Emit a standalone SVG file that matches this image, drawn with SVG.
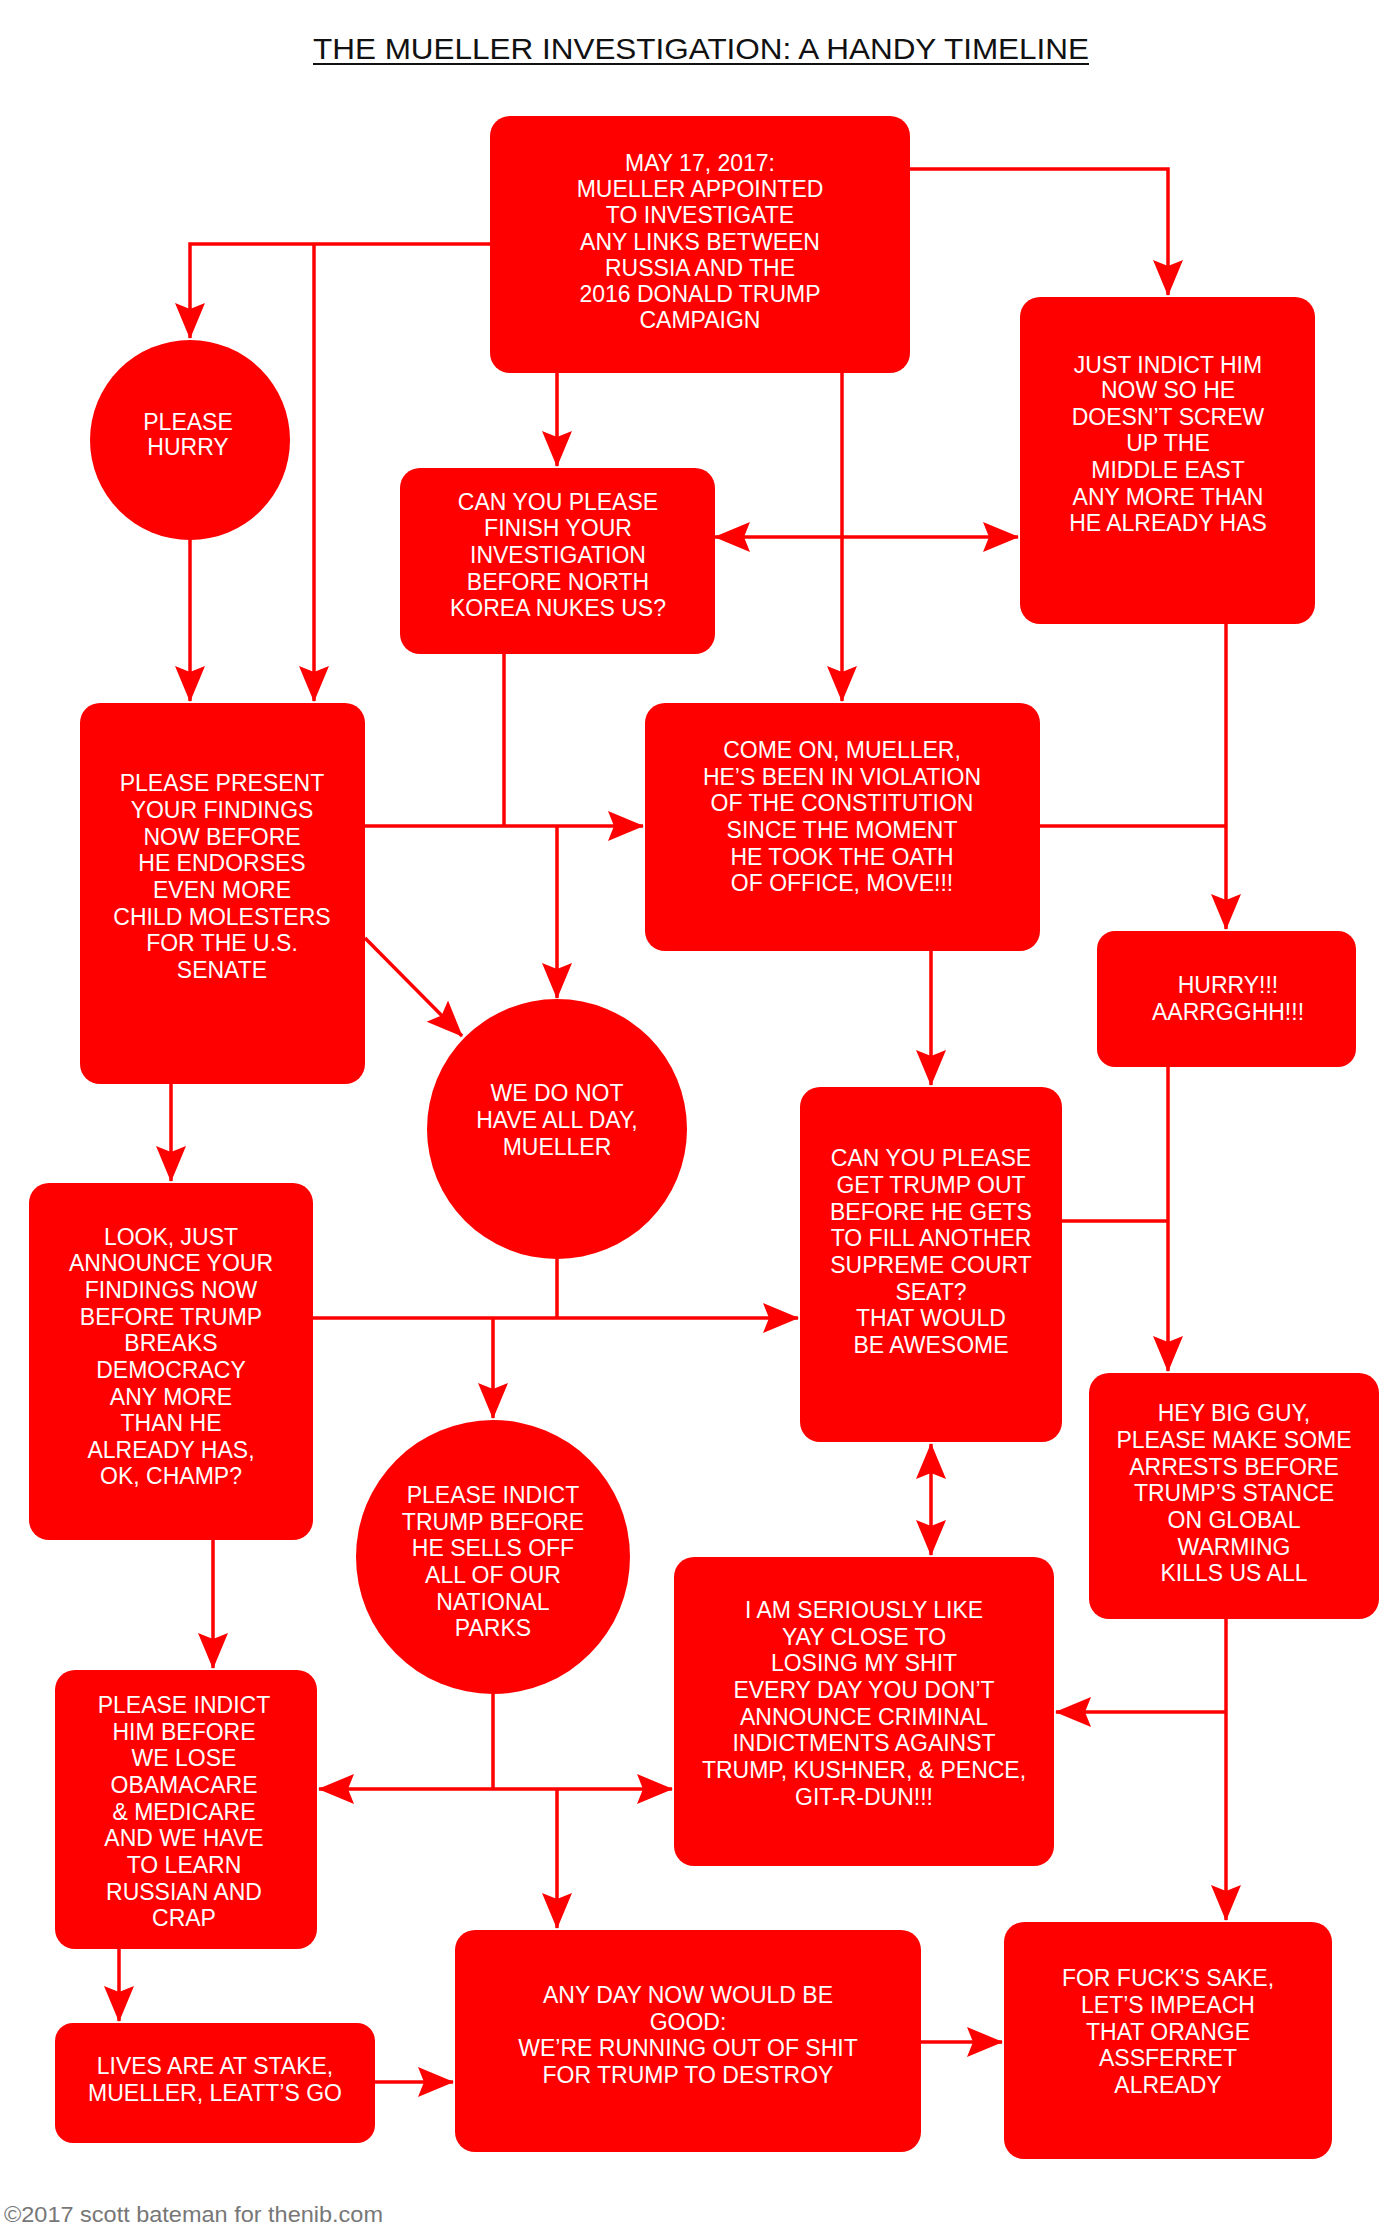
<svg xmlns="http://www.w3.org/2000/svg" width="1400" height="2240" viewBox="0 0 1400 2240">
<style>
.n{fill:#ff0000}
.t{font-family:"Liberation Sans",Arial,sans-serif;font-size:23px;fill:#ffffff;text-anchor:middle}
.c{stroke:#ff0000;stroke-width:3.5;fill:none}
.a{marker-end:url(#ah)}
.d{marker-start:url(#ah);marker-end:url(#ah)}
</style>
<defs>
<marker id="ah" markerUnits="userSpaceOnUse" markerWidth="40" markerHeight="34" viewBox="-37 -17 39 34" refX="0" refY="0" orient="auto-start-reverse">
<path d="M1,0 L-35,-15 L-29,0 L-35,15 Z" fill="#ff0000"/>
</marker>
</defs>
<rect width="1400" height="2240" fill="#ffffff"/>
<g id="title">
<text x="701" y="59" font-family="Liberation Sans, Arial, sans-serif" font-size="30" fill="#111" text-anchor="middle" textLength="776" lengthAdjust="spacingAndGlyphs">THE MUELLER INVESTIGATION: A HANDY TIMELINE</text>
<line x1="313" y1="64" x2="1089" y2="64" stroke="#111" stroke-width="2"/>
</g>
<g id="connectors">
<path class="c a" d="M490,244 H190 V338"/>
<path class="c a" d="M314,244 V701"/>
<path class="c a" d="M190,540 V701"/>
<path class="c a" d="M557,373 V466"/>
<path class="c a" d="M842,373 V701"/>
<path class="c a" d="M910,169 H1168 V295"/>
<path class="c d" d="M715,537 H1018"/>
<path class="c" d="M504,654 V826"/>
<path class="c a" d="M365,826 H643"/>
<path class="c a" d="M557,826 V998"/>
<path class="c" d="M1040,826 H1226"/>
<path class="c a" d="M1226,624 V929"/>
<path class="c a" d="M365,938 L462,1036"/>
<path class="c a" d="M931,951 V1085"/>
<path class="c a" d="M171,1084 V1181"/>
<path class="c a" d="M1168,1067 V1371"/>
<path class="c" d="M1062,1221 H1168"/>
<path class="c a" d="M313,1318 H798"/>
<path class="c" d="M557,1259 V1318"/>
<path class="c a" d="M493,1318 V1418"/>
<path class="c a" d="M213,1540 V1668"/>
<path class="c d" d="M931,1444 V1555"/>
<path class="c a" d="M1226,1619 V1920"/>
<path class="c a" d="M1226,1712 H1056"/>
<path class="c d" d="M319,1789 H672"/>
<path class="c" d="M493,1694 V1789"/>
<path class="c a" d="M557,1789 V1928"/>
<path class="c a" d="M119,1949 V2021"/>
<path class="c a" d="M375,2082 H453"/>
<path class="c a" d="M921,2042 H1002"/>
</g>
<g id="n1">
<rect class="n" x="490" y="116" width="420" height="257" rx="20"/>
<text class="t"><tspan x="700" y="171">MAY 17, 2017:</tspan><tspan x="700" y="197">MUELLER APPOINTED</tspan><tspan x="700" y="223">TO INVESTIGATE</tspan><tspan x="700" y="250">ANY LINKS BETWEEN</tspan><tspan x="700" y="276">RUSSIA AND THE</tspan><tspan x="700" y="302">2016 DONALD TRUMP</tspan><tspan x="700" y="328">CAMPAIGN</tspan></text>
</g>
<g id="n2">
<circle class="n" cx="190" cy="440" r="100"/>
<text class="t"><tspan x="188" y="430">PLEASE</tspan><tspan x="188" y="455">HURRY</tspan></text>
</g>
<g id="n3">
<rect class="n" x="400" y="468" width="315" height="186" rx="20"/>
<text class="t"><tspan x="558" y="510">CAN YOU PLEASE</tspan><tspan x="558" y="536">FINISH YOUR</tspan><tspan x="558" y="563">INVESTIGATION</tspan><tspan x="558" y="590">BEFORE NORTH</tspan><tspan x="558" y="616">KOREA NUKES US?</tspan></text>
</g>
<g id="n4">
<rect class="n" x="1020" y="297" width="295" height="327" rx="20"/>
<text class="t"><tspan x="1168" y="373">JUST INDICT HIM</tspan><tspan x="1168" y="398">NOW SO HE</tspan><tspan x="1168" y="425">DOESN’T SCREW</tspan><tspan x="1168" y="451">UP THE</tspan><tspan x="1168" y="478">MIDDLE EAST</tspan><tspan x="1168" y="505">ANY MORE THAN</tspan><tspan x="1168" y="531">HE ALREADY HAS</tspan></text>
</g>
<g id="n5">
<rect class="n" x="80" y="703" width="285" height="381" rx="20"/>
<text class="t"><tspan x="222" y="791">PLEASE PRESENT</tspan><tspan x="222" y="818">YOUR FINDINGS</tspan><tspan x="222" y="845">NOW BEFORE</tspan><tspan x="222" y="871">HE ENDORSES</tspan><tspan x="222" y="898">EVEN MORE</tspan><tspan x="222" y="925">CHILD MOLESTERS</tspan><tspan x="222" y="951">FOR THE U.S.</tspan><tspan x="222" y="978">SENATE</tspan></text>
</g>
<g id="n6">
<rect class="n" x="645" y="703" width="395" height="248" rx="20"/>
<text class="t"><tspan x="842" y="758">COME ON, MUELLER,</tspan><tspan x="842" y="785">HE’S BEEN IN VIOLATION</tspan><tspan x="842" y="811">OF THE CONSTITUTION</tspan><tspan x="842" y="838">SINCE THE MOMENT</tspan><tspan x="842" y="865">HE TOOK THE OATH</tspan><tspan x="842" y="891">OF OFFICE, MOVE!!!</tspan></text>
</g>
<g id="n7">
<rect class="n" x="1097" y="931" width="259" height="136" rx="18"/>
<text class="t"><tspan x="1228" y="993">HURRY!!!</tspan><tspan x="1228" y="1020">AARRGGHH!!!</tspan></text>
</g>
<g id="n8">
<circle class="n" cx="557" cy="1129" r="130"/>
<text class="t"><tspan x="557" y="1101">WE DO NOT</tspan><tspan x="557" y="1128">HAVE ALL DAY,</tspan><tspan x="557" y="1155">MUELLER</tspan></text>
</g>
<g id="n9">
<rect class="n" x="800" y="1087" width="262" height="355" rx="20"/>
<text class="t"><tspan x="931" y="1166">CAN YOU PLEASE</tspan><tspan x="931" y="1193">GET TRUMP OUT</tspan><tspan x="931" y="1220">BEFORE HE GETS</tspan><tspan x="931" y="1246">TO FILL ANOTHER</tspan><tspan x="931" y="1273">SUPREME COURT</tspan><tspan x="931" y="1300">SEAT?</tspan><tspan x="931" y="1326">THAT WOULD</tspan><tspan x="931" y="1353">BE AWESOME</tspan></text>
</g>
<g id="n10">
<rect class="n" x="29" y="1183" width="284" height="357" rx="20"/>
<text class="t"><tspan x="171" y="1245">LOOK, JUST</tspan><tspan x="171" y="1271">ANNOUNCE YOUR</tspan><tspan x="171" y="1298">FINDINGS NOW</tspan><tspan x="171" y="1325">BEFORE TRUMP</tspan><tspan x="171" y="1351">BREAKS</tspan><tspan x="171" y="1378">DEMOCRACY</tspan><tspan x="171" y="1405">ANY MORE</tspan><tspan x="171" y="1431">THAN HE</tspan><tspan x="171" y="1458">ALREADY HAS,</tspan><tspan x="171" y="1484">OK, CHAMP?</tspan></text>
</g>
<g id="n11">
<circle class="n" cx="493" cy="1557" r="137"/>
<text class="t"><tspan x="493" y="1503">PLEASE INDICT</tspan><tspan x="493" y="1530">TRUMP BEFORE</tspan><tspan x="493" y="1556">HE SELLS OFF</tspan><tspan x="493" y="1583">ALL OF OUR</tspan><tspan x="493" y="1610">NATIONAL</tspan><tspan x="493" y="1636">PARKS</tspan></text>
</g>
<g id="n12">
<rect class="n" x="1089" y="1373" width="290" height="246" rx="20"/>
<text class="t"><tspan x="1234" y="1421">HEY BIG GUY,</tspan><tspan x="1234" y="1448">PLEASE MAKE SOME</tspan><tspan x="1234" y="1475">ARRESTS BEFORE</tspan><tspan x="1234" y="1501">TRUMP’S STANCE</tspan><tspan x="1234" y="1528">ON GLOBAL</tspan><tspan x="1234" y="1555">WARMING</tspan><tspan x="1234" y="1581">KILLS US ALL</tspan></text>
</g>
<g id="n13">
<rect class="n" x="55" y="1670" width="262" height="279" rx="20"/>
<text class="t"><tspan x="184" y="1713">PLEASE INDICT</tspan><tspan x="184" y="1740">HIM BEFORE</tspan><tspan x="184" y="1766">WE LOSE</tspan><tspan x="184" y="1793">OBAMACARE</tspan><tspan x="184" y="1820">&amp; MEDICARE</tspan><tspan x="184" y="1846">AND WE HAVE</tspan><tspan x="184" y="1873">TO LEARN</tspan><tspan x="184" y="1900">RUSSIAN AND</tspan><tspan x="184" y="1926">CRAP</tspan></text>
</g>
<g id="n14">
<rect class="n" x="674" y="1557" width="380" height="309" rx="20"/>
<text class="t"><tspan x="864" y="1618">I AM SERIOUSLY LIKE</tspan><tspan x="864" y="1645">YAY CLOSE TO</tspan><tspan x="864" y="1671">LOSING MY SHIT</tspan><tspan x="864" y="1698">EVERY DAY YOU DON’T</tspan><tspan x="864" y="1725">ANNOUNCE CRIMINAL</tspan><tspan x="864" y="1751">INDICTMENTS AGAINST</tspan><tspan x="864" y="1778">TRUMP, KUSHNER, &amp; PENCE,</tspan><tspan x="864" y="1805">GIT-R-DUN!!!</tspan></text>
</g>
<g id="n15">
<rect class="n" x="55" y="2023" width="320" height="120" rx="18"/>
<text class="t"><tspan x="215" y="2074">LIVES ARE AT STAKE,</tspan><tspan x="215" y="2101">MUELLER, LEATT’S GO</tspan></text>
</g>
<g id="n16">
<rect class="n" x="455" y="1930" width="466" height="222" rx="20"/>
<text class="t"><tspan x="688" y="2003">ANY DAY NOW WOULD BE</tspan><tspan x="688" y="2030">GOOD:</tspan><tspan x="688" y="2056">WE’RE RUNNING OUT OF SHIT</tspan><tspan x="688" y="2083">FOR TRUMP TO DESTROY</tspan></text>
</g>
<g id="n17">
<rect class="n" x="1004" y="1922" width="328" height="237" rx="20"/>
<text class="t"><tspan x="1168" y="1986">FOR FUCK’S SAKE,</tspan><tspan x="1168" y="2013">LET’S IMPEACH</tspan><tspan x="1168" y="2040">THAT ORANGE</tspan><tspan x="1168" y="2066">ASSFERRET</tspan><tspan x="1168" y="2093">ALREADY</tspan></text>
</g>
<g id="footer">
<text x="4" y="2222" font-family="Liberation Sans, Arial, sans-serif" font-size="22" fill="#777777" textLength="379" lengthAdjust="spacingAndGlyphs">©2017 scott bateman for thenib.com</text>
</g>
</svg>
